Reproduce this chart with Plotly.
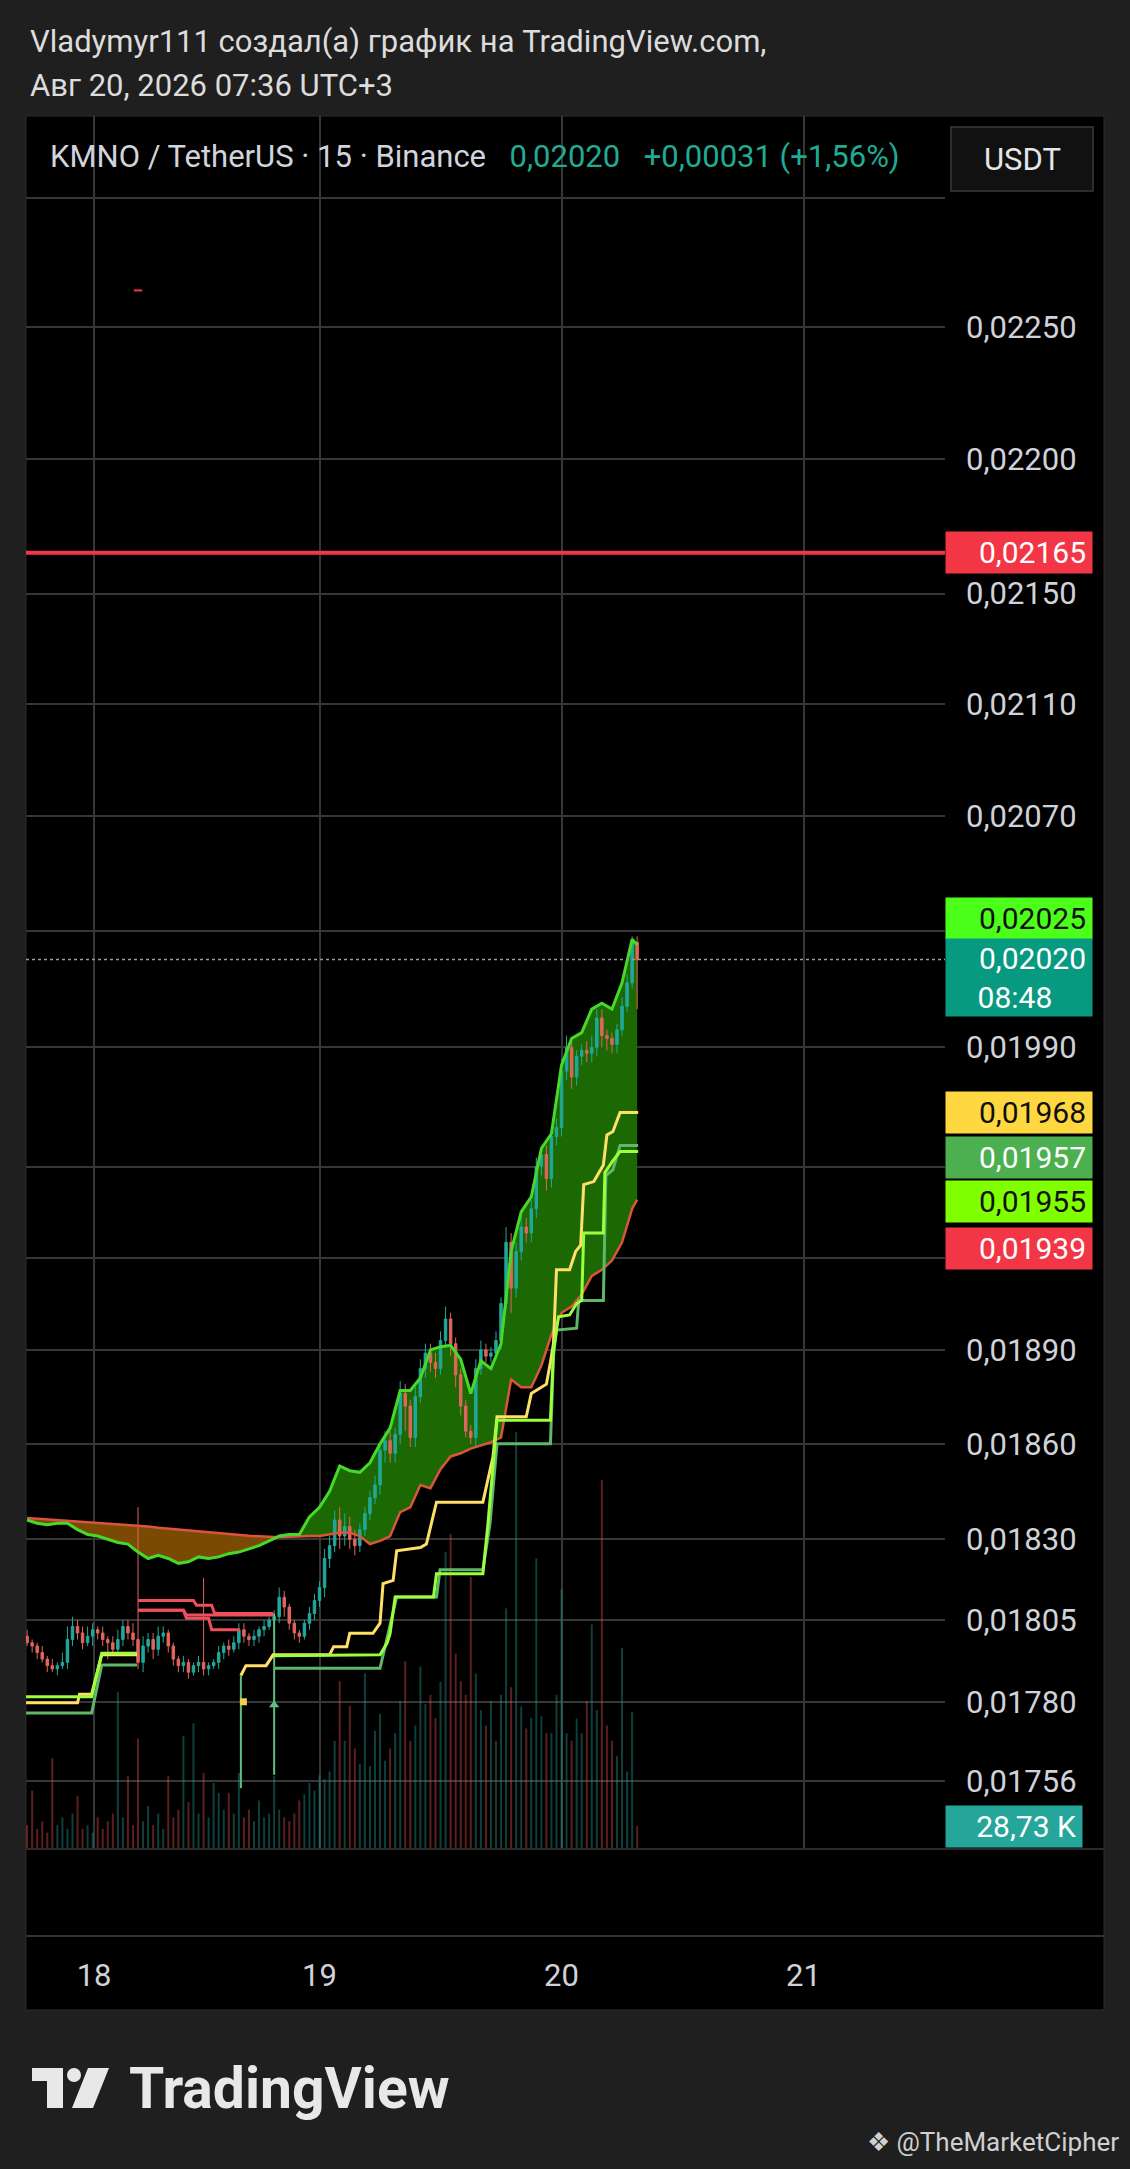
import numpy as np
import plotly.graph_objects as go

# prices are in 1e-5 USDT, time in hours (19 Aug 00:00 = 24), 30-min candles
first_open = 1800
close_e5 = [
    1798, 1797, 1795, 1793, 1791, 1790, 1791, 1792, 1799, 1803,
    1801, 1798, 1800, 1802, 1801, 1799, 1798, 1796, 1799, 1803,
    1801, 1799, 1792, 1797, 1799, 1796, 1800, 1801, 1797, 1793,
    1791, 1792, 1789, 1791, 1792, 1790, 1791, 1792, 1795, 1797,
    1796, 1798, 1802, 1800, 1799, 1800, 1802, 1803, 1805, 1806,
    1812, 1809, 1804, 1801, 1800, 1804, 1807, 1811, 1815, 1824,
    1828, 1836, 1831, 1834, 1830, 1828, 1833, 1838, 1843, 1847,
    1858, 1861, 1857, 1863, 1876, 1872, 1862, 1875, 1884, 1889,
    1886, 1884, 1893, 1900, 1892, 1882, 1872, 1864, 1862, 1884,
    1890, 1888, 1889, 1893, 1905, 1925, 1910, 1922, 1930, 1928,
    1936, 1950, 1954, 1946, 1960, 1963, 1982, 1990, 1980, 1987,
    1989, 1988, 1990, 2000, 1994, 1993, 1991, 1996, 2004, 2012,
    2026, 2020,
]
wick_up = [
    2, 1, 1, 2, 1, 2, 1, 3, 4, 3,
    2, 2, 3, 2, 1, 2, 1, 2, 3, 2,
    2, 3, 41, 3, 2, 2, 3, 2, 1, 1,
    1, 2, 1, 1, 2, 26, 1, 1, 2, 1,
    2, 2, 2, 2, 1, 2, 1, 2, 1, 2,
    3, 2, 1, 1, 1, 1, 2, 2, 2, 3,
    3, 3, 4, 4, 3, 3, 2, 2, 2, 3,
    2, 3, 3, 2, 4, 3, 2, 3, 3, 3,
    3, 3, 3, 4, 2, 2, 2, 2, 2, 3,
    3, 2, 2, 3, 2, 5, 3, 3, 4, 3,
    3, 3, 3, 3, 3, 3, 4, 4, 2, 2,
    2, 3, 4, 3, 3, 2, 2, 2, 3, 3,
    2, 2,
]
wick_dn = [
    1, 2, 2, 1, 2, 1, 2, 1, 2, 2,
    2, 2, 1, 3, 2, 2, 5, 2, 1, 2,
    2, 2, 2, 3, 2, 3, 2, 2, 2, 2,
    2, 2, 2, 1, 2, 2, 2, 1, 2, 2,
    2, 1, 2, 2, 2, 2, 2, 2, 1, 2,
    2, 3, 2, 2, 2, 1, 2, 2, 2, 3,
    3, 2, 4, 3, 3, 3, 2, 2, 2, 2,
    3, 4, 3, 3, 3, 8, 3, 3, 2, 3,
    3, 3, 2, 2, 4, 4, 3, 2, 2, 3,
    2, 2, 2, 2, 3, 2, 8, 3, 3, 3,
    3, 3, 3, 4, 3, 3, 3, 3, 4, 3,
    3, 3, 3, 3, 4, 4, 3, 3, 2, 2,
    2, 17,
]
volume_k = [
    30, 75, 25, 35, 20, 117, 30, 40, 25, 45,
    68, 25, 30, 20, 40, 25, 35, 45, 204, 40,
    94, 30, 143, 35, 55, 30, 45, 25, 94, 40,
    50, 146, 60, 163, 45, 98, 40, 85, 72, 50,
    72, 45, 98, 40, 50, 35, 62, 40, 45, 94,
    50, 40, 35, 45, 62, 70, 85, 75, 95, 90,
    100, 140, 218, 140, 186, 130, 110, 228, 107, 153,
    175, 114, 130, 150, 192, 244, 140, 160, 237, 188,
    200, 170, 217, 387, 410, 254, 218, 200, 354, 228,
    180, 160, 192, 140, 200, 313, 210, 543, 185, 156,
    170, 378, 172, 150, 150, 200, 338, 150, 140, 169,
    150, 192, 292, 180, 481, 160, 140, 120, 261, 100,
    178, 28.73,
]

# moving-average cloud, hourly
ma_hours = list(range(-5, 56)) + [55.5]
fast_ma = [
    1836, 1835, 1834.5, 1835, 1835, 1833, 1831.5, 1831, 1830, 1829,
    1828.5, 1826, 1824, 1825, 1824, 1822.5, 1823, 1824.5, 1824, 1824.5,
    1825.5, 1826, 1827, 1828, 1829.5, 1831, 1831.5, 1831.5, 1837, 1840,
    1845, 1853, 1851.5, 1851, 1854, 1860, 1865, 1877, 1877, 1881,
    1890, 1891, 1891.5, 1887, 1876, 1886.5, 1884, 1892, 1922, 1935,
    1940, 1956, 1961, 1984, 1993, 1995, 2003, 2005, 2003, 2012,
    2027, 2025,
]
slow_ma = [
    1836.6, 1836.4, 1836.2, 1836, 1835.8, 1835.6, 1835.3, 1835, 1834.8, 1834.6,
    1834.4, 1834.2, 1834, 1833.6, 1833.3, 1833, 1832.7, 1832.4, 1832.1, 1831.8,
    1831.5, 1831.3, 1831.1, 1830.9, 1830.7, 1830.6, 1830.8, 1831, 1831, 1831,
    1831.5, 1832, 1832, 1831, 1828.5, 1829.5, 1831, 1838.5, 1840, 1847,
    1846, 1852, 1856, 1857, 1858.5, 1859.5, 1860.5, 1862, 1880.5, 1878,
    1878, 1885, 1895, 1902, 1904, 1908, 1914, 1916, 1919, 1925,
    1936, 1939,
]

# trailing step lines
yellow_1_h = [-5.1, 0.0, 0.2, 1.4, 2.4, 5.9]
yellow_1_p = [1779.7, 1779.7, 1782.3, 1782.3, 1794.3, 1794.3]
yellow_bear_h = [6.0, 10.5, 10.8, 13.0, 13.3, 16.1]
yellow_bear_p = [1808, 1808, 1805.5, 1805.5, 1802, 1802]
yellow_2_h = [16.2, 16.7, 18.7, 19.4, 25.0, 25.4, 26.7, 27.0, 29.3, 30.0, 30.3, 31.3,
              31.65, 34.0, 34.6, 35.6, 40.2, 41.2, 41.6, 44.5, 45.0, 46.5, 46.9, 47.2,
              47.5, 48.8, 49.4, 49.9, 50.2, 51.2, 52.15, 52.5, 53.1, 53.8, 55.6]
yellow_2_p = [1788, 1791, 1791, 1794.3, 1794.3, 1796.8, 1796.8, 1800.9, 1800.9, 1804, 1816.2, 1817.2,
              1826.4, 1827.4, 1828.5, 1841.6, 1841.6, 1855.8, 1868.6, 1868.6, 1876, 1879, 1886, 1892,
              1916, 1916, 1922, 1924, 1944, 1945, 1950.5, 1960.5, 1961.7, 1968, 1968]

lime_1_h = [-5.1, 1.4, 2.4, 5.9]
lime_1_p = [1781.5, 1781.5, 1794.8, 1794.8]
lime_bear_h = [6.0, 11.5, 11.8, 13.3, 13.6, 19.4]
lime_bear_p = [1811, 1811, 1809.5, 1809.5, 1807, 1807]
lime_2_h = [19.5, 30.0, 30.7, 31.0, 31.5, 35.3, 35.6, 40.2, 40.7, 41.2, 41.6, 46.9,
            47.2, 47.7, 48.8, 49.5, 50.0, 50.2, 52.15, 52.3, 53.1, 53.8, 55.6]
lime_2_p = [1794, 1794.3, 1797.9, 1800.9, 1812.1, 1812.1, 1819.3, 1819.3, 1834.7, 1851.6, 1867.5, 1867.5,
            1890, 1900.7, 1901.3, 1905, 1906, 1928, 1928, 1948, 1952, 1955, 1955]

sage_1_h = [-5.1, 1.4, 2.4, 5.9]
sage_1_p = [1776.6, 1776.6, 1791.2, 1791.2]
sage_bear_h = [6.0, 10.5, 10.8, 19.4]
sage_bear_p = [1808, 1808, 1806.5, 1806.5]
sage_2_h = [19.5, 30.0, 31.65, 35.6, 35.95, 40.2, 40.9, 41.6, 46.9, 47.2, 47.5, 49.5,
            49.7, 52.15, 52.4, 53.1, 53.8, 55.6]
sage_2_p = [1790.2, 1790.2, 1812.1, 1812.1, 1820.5, 1820.5, 1834.7, 1860, 1860, 1887.9, 1896.4, 1897,
            1906, 1906, 1947, 1949, 1957, 1957]

signal_hours = [16.2, 19.5]
signal_top = [1788, 1807]
signal_bottom = [1754, 1758]
sell_mark = (16.45, 1780)
buy_mark = (19.5, 1779)
stray_mark = (6.0, 2264)

alert_level = 2165
last_price = 2020

day_hours = [1.64, 24, 48, 72]
day_labels = ["18", "19", "20", "21"]
price_ticks = [1756, 1780, 1805, 1830, 1860, 1890, 1920, 1950, 1990, 2030,
               2070, 2110, 2150, 2200, 2250, 2300]
hidden_ticks = [1920, 1950, 2030, 2300]

# ---- layout geometry (pixels) ----
W, H = 1130, 2169
L, R, T, B = 26, 945, 116, 1848
X_RANGE = [-5.11, 86.03]
Y_RANGE = [np.log10(0.017362), np.log10(0.023323)]
VOL_TOP = 2262

FONT = "Roboto"
GRID = "#363636"


def px(x):
    return (x - L) / (R - L)


def py(y):
    return 1 - (y - T) / (B - T)


def p(v):
    return np.asarray(v, dtype=float) * 1e-5


def fmt(v):
    return "0,0" + f"{v:.0f}"


candle_hours = [-5 + 0.5 * i for i in range(len(close_e5))]
opens = [first_open] + close_e5[:-1]
highs = [max(o, c) + u for o, c, u in zip(opens, close_e5, wick_up)]
lows = [min(o, c) - d for o, c, d in zip(opens, close_e5, wick_dn)]
vol_colors = ["rgba(38,166,154,0.38)" if c >= o else "rgba(239,83,80,0.38)"
              for o, c in zip(opens, close_e5)]

fig = go.Figure()

# cloud fills on the base axis (below candles)
split = ma_hours.index(20)
for sl, fill in [(slice(0, split + 1), "rgb(122,74,4)"), (slice(split, None), "rgb(28,104,2)")]:
    fig.add_trace(go.Scatter(x=ma_hours[sl], y=p(slow_ma[sl]), mode="lines",
                             line=dict(width=0), hoverinfo="skip", yaxis="y"))
    fig.add_trace(go.Scatter(x=ma_hours[sl], y=p(fast_ma[sl]), mode="lines",
                             line=dict(width=0), fill="tonexty", fillcolor=fill,
                             hoverinfo="skip", yaxis="y"))

# volume
fig.add_trace(go.Bar(x=candle_hours, y=volume_k, width=0.2, marker_color=vol_colors,
                     marker_line_width=0, yaxis="y2"))

# candles
fig.add_trace(go.Candlestick(
    x=candle_hours, open=p(opens), high=p(highs), low=p(lows), close=p(close_e5),
    increasing=dict(line=dict(color="#22a89b", width=1), fillcolor="#22a89b"),
    decreasing=dict(line=dict(color="#e0655c", width=1), fillcolor="#e0655c"),
    whiskerwidth=0, yaxis="y3"))

# cloud edges
fig.add_trace(go.Scatter(x=ma_hours, y=p(slow_ma), mode="lines",
                         line=dict(color="#d9553c", width=2.5), yaxis="y3"))
fig.add_trace(go.Scatter(x=ma_hours, y=p(fast_ma), mode="lines",
                         line=dict(color="#46d92a", width=3), yaxis="y3"))

# signal lines
for h, top, bot in zip(signal_hours, signal_top, signal_bottom):
    fig.add_trace(go.Scatter(x=[h, h], y=p([top, bot]), mode="lines",
                             line=dict(color="#5fbf7f", width=2), yaxis="y3"))

# step lines
steps = [
    (sage_1_h, sage_1_p, "#5fb86a"), (sage_bear_h, sage_bear_p, "#ee4f5c"),
    (sage_2_h, sage_2_p, "#5fb86a"),
    (yellow_1_h, yellow_1_p, "#ffe066"), (yellow_bear_h, yellow_bear_p, "#ee4f5c"),
    (yellow_2_h, yellow_2_p, "#ffe066"),
    (lime_1_h, lime_1_p, "#9cff3c"), (lime_bear_h, lime_bear_p, "#ee4f5c"),
    (lime_2_h, lime_2_p, "#9cff3c"),
]
for hs, ps, col in steps:
    fig.add_trace(go.Scatter(x=hs, y=p(ps), mode="lines", line=dict(color=col, width=3),
                             yaxis="y3"))

# markers
fig.add_trace(go.Scatter(x=[sell_mark[0]], y=p([sell_mark[1]]), mode="markers",
                         marker=dict(symbol="square", size=7, color="#f2d04a"), yaxis="y3"))
fig.add_trace(go.Scatter(x=[buy_mark[0]], y=p([buy_mark[1]]), mode="markers",
                         marker=dict(symbol="triangle-up", size=9, color="#5fbf7f"), yaxis="y3"))
fig.add_trace(go.Scatter(x=[stray_mark[0]], y=p([stray_mark[1]]), mode="markers",
                         marker=dict(symbol="line-ew", size=6, line=dict(color="#f23645", width=2)),
                         yaxis="y3"))

# horizontal levels
fig.add_trace(go.Scatter(x=X_RANGE, y=p([alert_level, alert_level]), mode="lines",
                         line=dict(color="#f23645", width=4), yaxis="y3"))
fig.add_trace(go.Scatter(x=X_RANGE, y=p([last_price, last_price]), mode="lines",
                         line=dict(color="#9a9a9a", width=1.5, dash="dot"), yaxis="y3"))

# ---- annotations ----
ann = []


def price_tag(value, text, bg, fg, shift=0, height=29):
    ann.append(dict(xref="paper", yref="y", x=1.0, y=np.log10(value * 1e-5),
                    xanchor="left", yanchor="middle", text=text, showarrow=False,
                    width=134, height=height, align="right", borderpad=6, bgcolor=bg,
                    font=dict(family=FONT, size=30, color=fg), yshift=shift))


price_tag(alert_level, fmt(alert_level), "#f23645", "#ffffff")
price_tag(fast_ma[-1], fmt(fast_ma[-1]), "#4cff1a", "#101010", 27)
price_tag(last_price, fmt(last_price) + "<br>08:48\u2007\u2007", "#089981", "#ffffff", -18, 65)
price_tag(yellow_2_p[-1], fmt(yellow_2_p[-1]), "#ffd740", "#101010")
price_tag(sage_2_p[-1], fmt(sage_2_p[-1]), "#4caf50", "#ffffff", -12)
price_tag(lime_2_p[-1], fmt(lime_2_p[-1]), "#80ff00", "#101010", -50)
price_tag(slow_ma[-1], fmt(slow_ma[-1]), "#f23645", "#ffffff", -49)

ann.append(dict(xref="paper", yref="y2", x=1.0, y=volume_k[-1], xanchor="left",
                yanchor="middle", text=f"{volume_k[-1]:.2f}".replace(".", ",") + " K",
                showarrow=False, width=124, height=29, align="right", borderpad=6,
                bgcolor="#26a69a", font=dict(family=FONT, size=30, color="#ffffff")))

ann += [
    dict(xref="paper", yref="paper", x=px(28), y=py(41), xanchor="left", yanchor="middle",
         text="Vladymyr111 создал(а) график на TradingView.com,", showarrow=False,
         font=dict(family=FONT, size=31, color="#dcdcdc")),
    dict(xref="paper", yref="paper", x=px(28), y=py(86), xanchor="left", yanchor="middle",
         text="Авг 20, 2026 07:36 UTC+3", showarrow=False,
         font=dict(family=FONT, size=31, color="#dcdcdc")),
    dict(xref="paper", yref="paper", x=px(48), y=py(156), xanchor="left", yanchor="middle",
         text="KMNO / TetherUS · 15 · Binance\u2002 <span style='color:#22ab94'>0,02020\u2002 "
              "+0,00031 (+1,56%)</span>",
         showarrow=False, font=dict(family=FONT, size=31, color="#d1d4dc")),
    dict(xref="paper", yref="paper", x=px(1022), y=py(159), xanchor="center", yanchor="middle",
         text="USDT", showarrow=False, font=dict(family=FONT, size=31, color="#e6e6e6")),
    dict(xref="paper", yref="paper", x=px(127), y=py(2088), xanchor="left", yanchor="middle",
         text="<b>TradingView</b>", showarrow=False,
         font=dict(family=FONT, size=57, color="#e8e8e8")),
    dict(xref="paper", yref="paper", x=px(1121), y=py(2142), xanchor="right", yanchor="middle",
         text="❖ @TheMarketCipher", showarrow=False,
         font=dict(family=FONT, size=26, color="#d0d0d0")),
]

# ---- shapes: panel, separators, button, logo ----
shapes = [
    dict(type="rect", xref="paper", yref="paper", x0=px(26), x1=px(1104), y0=py(116), y1=py(2010),
         fillcolor="#000000", line=dict(color="#2c2c2c", width=1), layer="below"),
    dict(type="line", xref="paper", yref="paper", x0=px(26), x1=px(1104), y0=py(1849), y1=py(1849),
         line=dict(color="#2a2a2a", width=2)),
    dict(type="line", xref="paper", yref="paper", x0=px(26), x1=px(1104), y0=py(1936), y1=py(1936),
         line=dict(color="#333333", width=2)),
    dict(type="rect", xref="paper", yref="paper", x0=px(951), x1=px(1093), y0=py(127), y1=py(191),
         fillcolor="#111111", line=dict(color="#3a3a3a", width=1.5)),
    dict(type="rect", xref="paper", yref="paper", x0=px(32), x1=px(63), y0=py(2068), y1=py(2081),
         fillcolor="#e8e8e8", line_width=0),
    dict(type="rect", xref="paper", yref="paper", x0=px(47), x1=px(63), y0=py(2068), y1=py(2108),
         fillcolor="#e8e8e8", line_width=0),
    dict(type="circle", xref="paper", yref="paper", x0=px(67), x1=px(81), y0=py(2068), y1=py(2082),
         fillcolor="#e8e8e8", line_width=0),
    dict(type="path", xref="paper", yref="paper",
         path=f"M {px(88)},{py(2068)} L {px(109)},{py(2068)} L {px(93)},{py(2108)} "
              f"L {px(72)},{py(2108)} Z",
         fillcolor="#e8e8e8", line_width=0),
]

fig.update_layout(
    width=W, height=H,
    margin=dict(l=L, r=W - R, t=T, b=H - B, autoexpand=False),
    paper_bgcolor="#1f1f1f", plot_bgcolor="#000000",
    showlegend=False, annotations=ann, shapes=shapes,
    xaxis=dict(range=X_RANGE, tickvals=day_hours, ticktext=day_labels, showgrid=True,
               gridcolor=GRID, gridwidth=1.5, zeroline=False, showline=False, ticks="",
               tickfont=dict(family=FONT, size=31, color="#cfd2d8"), ticklabelstandoff=106,
               rangeslider=dict(visible=False), fixedrange=True),
    yaxis=dict(type="log", range=Y_RANGE, side="right", tickvals=p(price_ticks),
               ticktext=["" if v in hidden_ticks else fmt(v) for v in price_ticks],
               showgrid=True, gridcolor=GRID, gridwidth=1.5, zeroline=False, showline=False,
               ticks="", tickfont=dict(family=FONT, size=31, color="#cfd2d8"),
               ticklabelstandoff=20),
    yaxis2=dict(overlaying="y", range=[0, VOL_TOP], visible=False),
    yaxis3=dict(overlaying="y", type="log", range=Y_RANGE, visible=False),
)

fig.write_html("out.html", config={"displayModeBar": False},
               post_script="document.body.style.margin='0';"
                           "document.body.style.background='#1f1f1f';")
